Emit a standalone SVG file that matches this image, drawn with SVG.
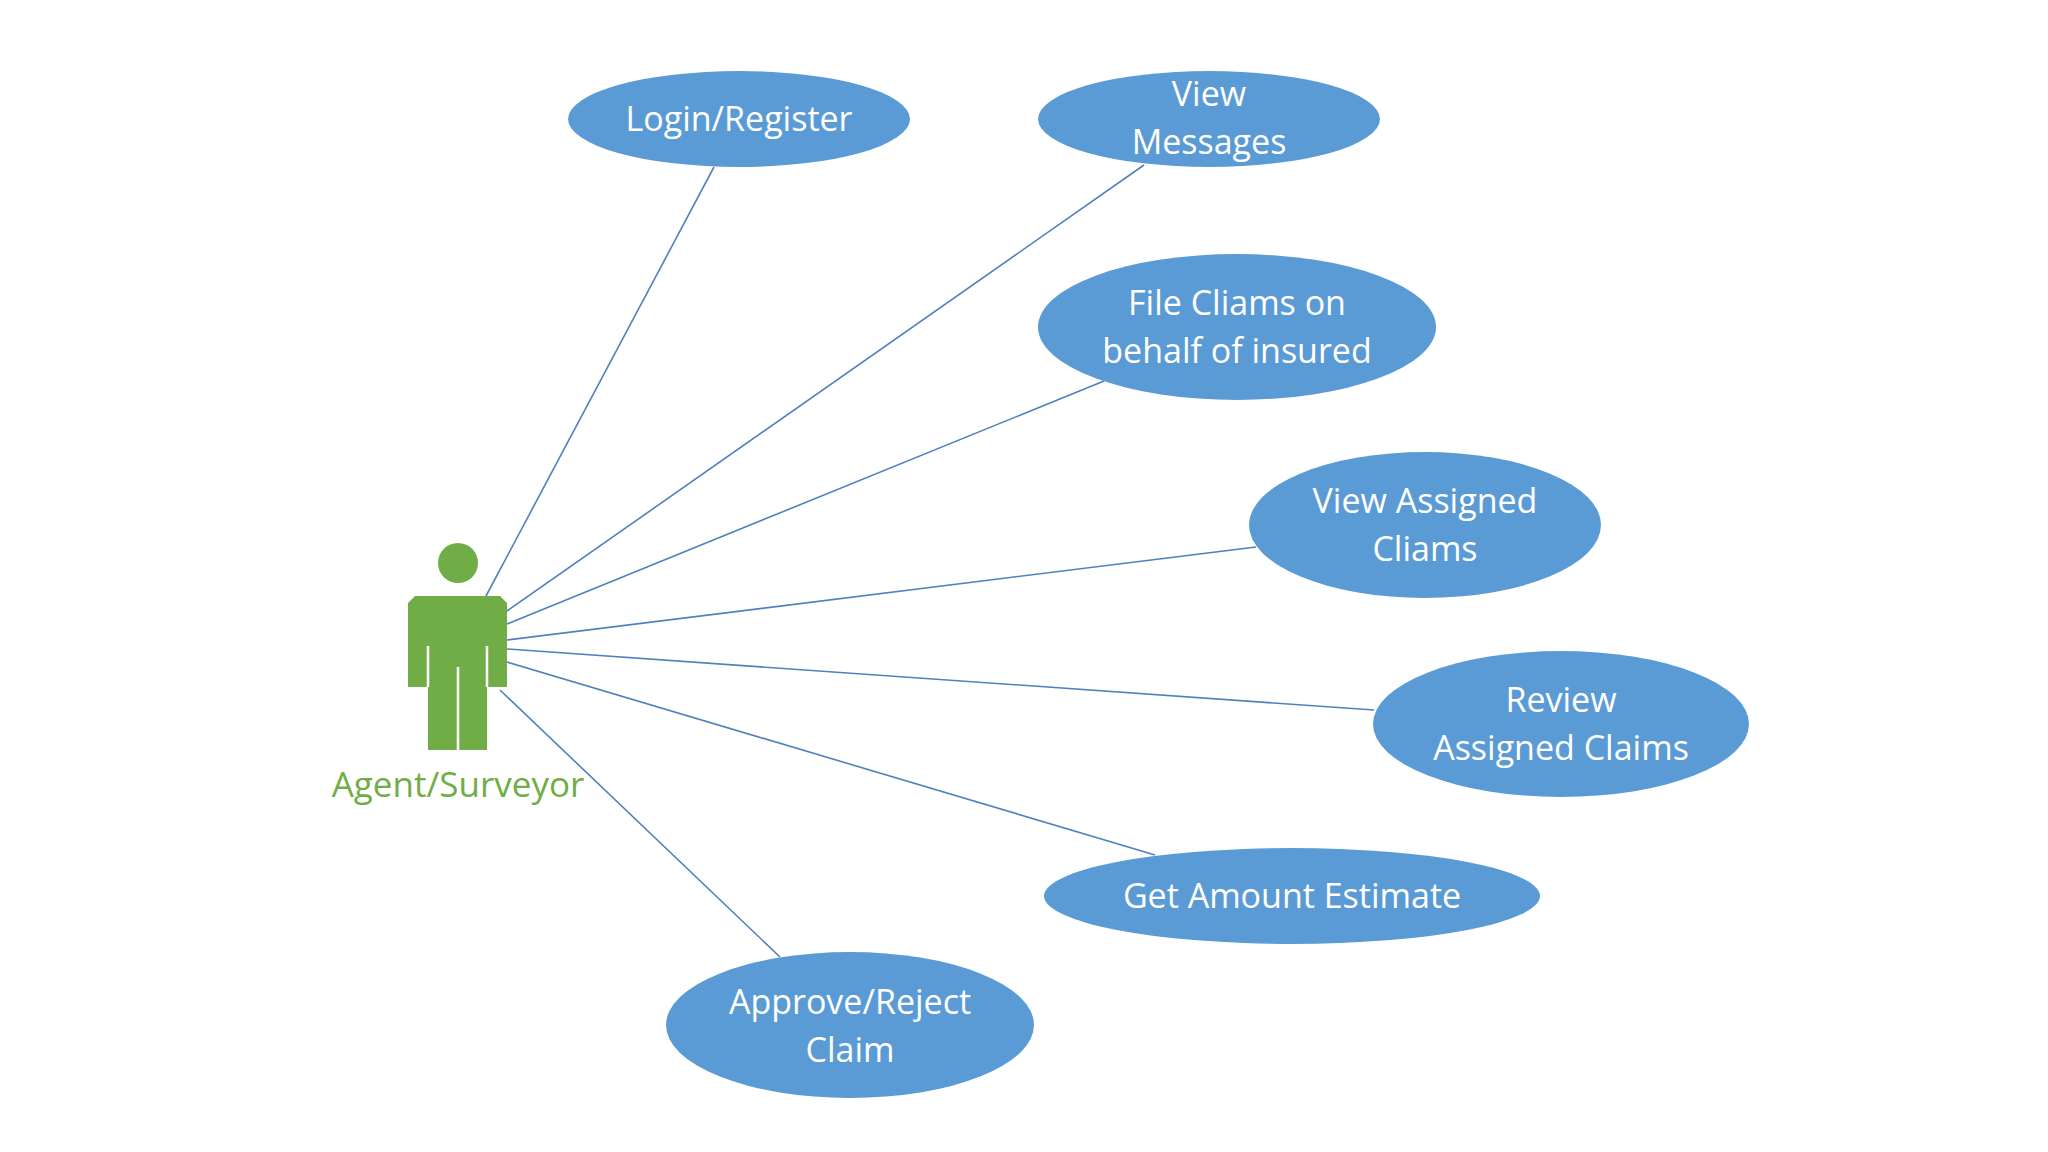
<svg xmlns="http://www.w3.org/2000/svg" width="2048" height="1152" viewBox="0 0 2048 1152">
<style>
.uc ellipse{fill:#5b9bd5}
.uc text{fill:#fff;font-family:"Open Sans","Liberation Sans",sans-serif;font-size:34px;text-anchor:middle}
#edges line{stroke:#4f81bd;stroke-width:1.6}
</style>
<rect width="2048" height="1152" fill="#fff"/>
<g id="edges">
<line x1="486" y1="596" x2="714" y2="167"/>
<line x1="507" y1="611" x2="1144" y2="165"/>
<line x1="507" y1="624" x2="1104" y2="381"/>
<line x1="507" y1="640" x2="1256" y2="547"/>
<line x1="507" y1="649" x2="1374" y2="710"/>
<line x1="507" y1="662" x2="1155" y2="855"/>
<line x1="500" y1="690" x2="780" y2="957"/>
</g>
<g id="actor">
<circle cx="458" cy="563" r="20" fill="#70ad47"/>
<path d="M415 596 H500 L507 603 V687 H487 V750 H428 V687 H408 V603 Z" fill="#70ad47"/>
<path d="M428 646 V687 M487 646 V687 M458 667 V750" stroke="#fff" stroke-width="2.5"/>
<text x="458" y="797" font-family="'Open Sans','Liberation Sans',sans-serif" font-size="35" fill="#70ad47" text-anchor="middle">Agent/Surveyor</text>
</g>
<g id="login" class="uc"><ellipse cx="739" cy="119" rx="171" ry="48"/><text x="739" y="131">Login/Register</text></g>
<g id="messages" class="uc"><ellipse cx="1209" cy="119" rx="171" ry="48"/><text x="1209" y="106">View</text><text x="1209" y="154">Messages</text></g>
<g id="file" class="uc"><ellipse cx="1237" cy="327" rx="199" ry="73"/><text x="1237" y="315">File Cliams on</text><text x="1237" y="363">behalf of insured</text></g>
<g id="assigned" class="uc"><ellipse cx="1425" cy="525" rx="176" ry="73"/><text x="1425" y="513">View Assigned</text><text x="1425" y="561">Cliams</text></g>
<g id="review" class="uc"><ellipse cx="1561" cy="724" rx="188" ry="73"/><text x="1561" y="712">Review</text><text x="1561" y="760">Assigned Claims</text></g>
<g id="estimate" class="uc"><ellipse cx="1292" cy="896" rx="248" ry="48"/><text x="1292" y="908">Get Amount Estimate</text></g>
<g id="approve" class="uc"><ellipse cx="850" cy="1025" rx="184" ry="73"/><text x="850" y="1014">Approve/Reject</text><text x="850" y="1062">Claim</text></g>
</svg>
